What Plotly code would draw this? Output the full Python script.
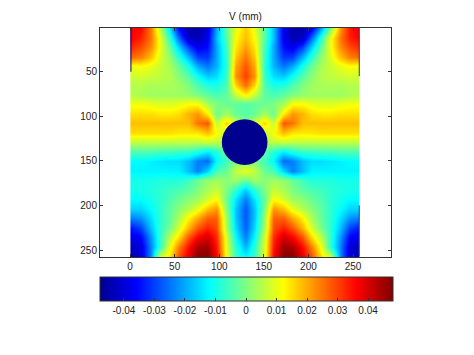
import numpy as np
import plotly.graph_objects as go

# Values in thousandths of a mm, one row per 10.67 units of y, one column per 10.67 units of x
row_00 = [36,36,25,6,-14,-36,-45,-45,-40,-20,-2,10,17,10,-4,-18,-38,-45,-45,-38,-20,0,22,34,38]
row_01 = [36,33,25,11,-7,-26,-42,-44,-38,-18,-4,12,18,12,-4,-18,-38,-44,-42,-26,-7,11,25,33,36]
row_02 = [32,29,23,11,-2,-16,-30,-38,-35,-20,-6,14,21,14,-6,-20,-35,-38,-30,-16,-2,11,23,29,32]
row_03 = [26,24,18,9,2,-8,-19,-30,-31,-20,-7,17,25,17,-7,-20,-31,-30,-19,-8,2,9,18,24,26]
row_04 = [11,12,10,7,4,-2,-10,-20,-25,-19,-8,20,28,20,-8,-19,-25,-20,-10,-2,4,7,10,12,11]
row_05 = [7,8,7,6,5,1,-4,-11,-17,-15,-7,22,30,22,-7,-15,-17,-11,-4,1,5,6,7,8,7]
row_06 = [5,5,4,4,4,3,0,-5,-9,-10,-5,16,26,16,-5,-10,-9,-5,0,3,4,4,4,5,5]
row_07 = [5,4,3,3,3,3,2,0,-3,-5,-3,6,13,6,-3,-5,-3,0,2,3,3,3,3,4,5]
row_08 = [11,11,10,9,9,10,12,12,4,0,-2,-3,-4,-3,-2,0,4,12,12,10,9,9,10,11,11]
row_09 = [15,15,15,14,14,15,19,22,14,-2,4,-2,-4,-2,4,-2,14,22,19,15,14,14,15,15,15]
row_10 = [18,18,18,18,18,18,18,25,28,6,16,8,0,8,16,6,28,25,18,18,18,18,18,18,18]
row_11 = [15,15,15,15,15,14,14,14,18,12,6,0,0,0,6,12,18,14,14,14,15,15,15,15,15]
row_12 = [6,6,6,6,6,6,6,6,7,6,4,0,0,0,4,6,7,6,6,6,6,6,6,6,6]
row_13 = [-5,-5,-5,-6,-6,-7,-7,-10,-14,-9,-3,0,0,0,-3,-9,-14,-10,-7,-7,-6,-6,-5,-5,-5]
row_14 = [-12,-12,-13,-14,-15,-15,-18,-24,-26,-12,-6,0,0,0,-6,-12,-26,-24,-18,-15,-15,-14,-13,-12,-12]
row_15 = [-13,-13,-13,-13,-13,-13,-18,-24,-16,-5,-2,6,10,6,-2,-5,-16,-24,-18,-13,-13,-13,-13,-13,-13]
row_16 = [-10,-10,-10,-9,-9,-9,-6,-2,2,3,1,3,-2,3,1,3,2,-2,-6,-9,-9,-9,-10,-10,-10]
row_17 = [-10,-10,-9,-8,-6,-5,-3,0,4,7,0,-8,-17,-8,0,7,4,0,-3,-5,-6,-8,-9,-10,-10]
row_18 = [-12,-12,-10,-8,-5,-2,1,3,8,12,-2,-14,-24,-14,-2,12,8,3,1,-2,-5,-8,-10,-12,-12]
row_19 = [-16,-16,-12,-8,-3,1,5,10,18,22,0,-17,-28,-17,0,22,18,10,5,1,-3,-8,-12,-16,-16]
row_20 = [-24,-22,-15,-8,-3,4,13,20,27,27,3,-17,-28,-17,3,27,27,20,13,4,-3,-8,-15,-22,-24]
row_21 = [-34,-30,-18,-8,-1,8,19,28,33,29,4,-15,-27,-15,4,29,33,28,19,8,-1,-8,-18,-30,-34]
row_22 = [-38,-36,-22,-8,5,15,28,36,40,32,8,-12,-24,-12,8,32,40,36,28,15,5,-8,-22,-36,-38]
row_23 = [-43,-40,-24,-8,10,24,35,44,45,34,9,-8,-19,-8,9,34,45,44,35,24,10,-8,-24,-40,-43]
row_24 = [-44,-40,-24,6,14,28,38,47,47,36,10,-7,-13,-7,10,36,47,47,38,28,14,6,-24,-40,-44]
rows = [row_00,row_01,row_02,row_03,row_04,row_05,row_06,row_07,row_08,row_09,row_10,row_11,row_12,
        row_13,row_14,row_15,row_16,row_17,row_18,row_19,row_20,row_21,row_22,row_23,row_24]

x_ticks = [0, 50, 100, 150, 200, 250]
y_ticks = [50, 100, 150, 200, 250]
cbar_ticks = [-0.04, -0.03, -0.02, -0.01, 0, 0.01, 0.02, 0.03, 0.04]
cbar_labels = ["-0.04", "-0.03", "-0.02", "-0.01", "0", "0.01", "0.02", "0.03", "0.04"]
title = "V (mm)"
hole_centre = (128.5, 129.0)
hole_radius = 25.6
left_edge_y = [1, 50]
right_edge_top_y = [1, 55]
right_edge_low_y = [200, 257]

jet = [[0, "rgb(0,0,143)"], [0.125, "rgb(0,0,255)"], [0.375, "rgb(0,255,255)"],
       [0.625, "rgb(255,255,0)"], [0.875, "rgb(255,0,0)"], [1, "rgb(128,0,0)"]]

z = np.pad(np.array(rows, dtype=float) / 1000, 1, mode="edge")
grid = np.linspace(1, 257, 25)
xs = np.r_[0.6, grid, 257.4]
ys = np.r_[0.6, grid, 257.4]

PAGE = 8  # the page's own body margin
W, H = 474 - 2 * PAGE, 355 - 2 * PAGE
L, R, T, B = 99.5 - PAGE, 391 - PAGE, 27.5 - PAGE, 257 - PAGE
PW, PH = R - L, B - T
CB_LEFT, CB_TOP, CB_LEN, CB_THICK = 99 - PAGE, 277 - PAGE, 292.5, 23.5
CB_MIN, CB_MAX = -0.048, 0.048

TEXT = "#222222"
LINE = "#333333"
fig = go.Figure(go.Heatmap(
    x=xs, y=ys, z=z, zsmooth="best", colorscale=jet, zmin=CB_MIN, zmax=CB_MAX,
    hoverinfo="skip",
    colorbar=dict(
        orientation="h",
        x=(CB_LEFT - L) / PW, xanchor="left", y=-(CB_TOP - B) / PH, yanchor="top",
        lenmode="pixels", len=CB_LEN, thicknessmode="pixels", thickness=CB_THICK,
        xpad=0, ypad=0, outlinecolor=LINE, outlinewidth=1,
        ticks="inside", ticklen=3, tickcolor=LINE, tickwidth=1,
        tickvals=cbar_ticks, ticktext=cbar_labels,
        tickfont=dict(family="Liberation Sans", size=10, color=TEXT),
    ),
))

for edge_x, edge_y, colour in [(1, left_edge_y, "rgb(0,0,143)"),
                               (257, right_edge_top_y, "#3a3f6a"),
                               (257, right_edge_low_y, "#3a4a7a")]:
    fig.add_trace(go.Scatter(x=[edge_x, edge_x], y=edge_y, mode="lines",
                             line=dict(color=colour, width=1), showlegend=False, hoverinfo="skip"))

axis_style = dict(showgrid=False, zeroline=False, showline=True, linecolor=LINE, linewidth=1,
                  mirror="ticks", ticks="inside", ticklen=3, tickcolor=LINE, tickwidth=1,
                  tickfont=dict(family="Liberation Sans", size=10, color=TEXT))

# MATLAB repeats the colour bar's ticks along its upper edge
top_ticks = [dict(type="line", xref="paper", yref="paper",
                  x0=(CB_LEFT + (v - CB_MIN) / (CB_MAX - CB_MIN) * CB_LEN - L) / PW,
                  x1=(CB_LEFT + (v - CB_MIN) / (CB_MAX - CB_MIN) * CB_LEN - L) / PW,
                  y0=-(CB_TOP - B) / PH, y1=-(CB_TOP + 3 - B) / PH,
                  line=dict(color=LINE, width=1)) for v in cbar_ticks]

fig.update_layout(
    width=W, height=H, paper_bgcolor="white", plot_bgcolor="white", showlegend=False,
    margin=dict(l=L, r=W - R, t=T, b=H - B, autoexpand=False),
    xaxis=dict(range=[-33.7, 292.6], tickvals=x_ticks, **axis_style),
    yaxis=dict(range=[257.8, 1], tickvals=y_ticks, **axis_style),
    title=dict(text=title, x=(245.5 - PAGE) / W, xanchor="center", y=1 - (16 - PAGE) / H, yanchor="middle",
               font=dict(family="Liberation Sans", size=10, color=TEXT)),
    shapes=[dict(type="circle", xref="x", yref="y",
                 x0=hole_centre[0] - hole_radius, x1=hole_centre[0] + hole_radius,
                 y0=hole_centre[1] - hole_radius, y1=hole_centre[1] + hole_radius,
                 fillcolor="rgb(0,0,143)", line=dict(width=0), layer="above")] + top_ticks,
)
fig.write_html("out.html")
